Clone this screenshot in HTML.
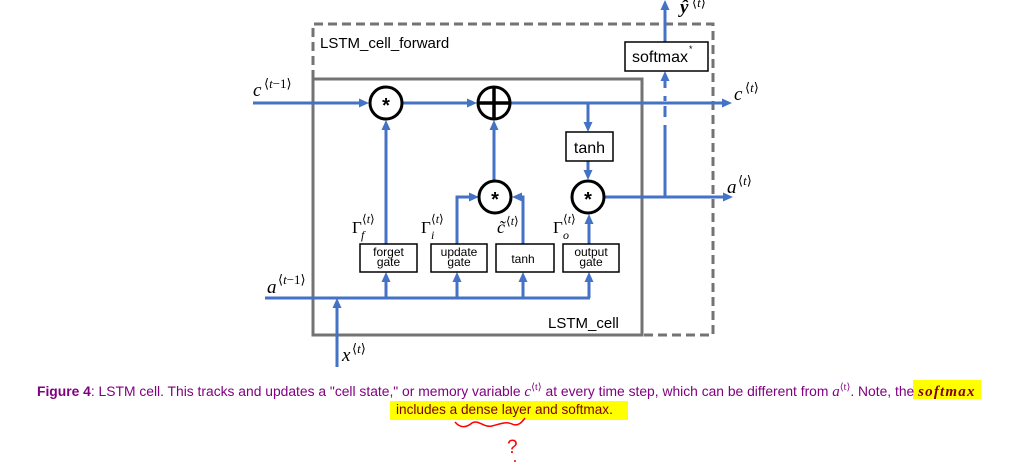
<!DOCTYPE html>
<html><head><meta charset="utf-8"><style>
html,body{margin:0;padding:0;background:#fff;width:1024px;height:462px;overflow:hidden;position:relative}
svg{position:absolute;left:0;top:0}
.cap{position:absolute;font-family:"Liberation Sans",Arial,sans-serif;font-size:13.85px;color:#800080;white-space:nowrap;line-height:16px}
.m{font-family:"Liberation Serif","DejaVu Serif",serif;font-style:italic;font-size:15px}
.sp{font-family:"Liberation Serif","DejaVu Serif",serif;font-size:10px;vertical-align:6px}
</style></head><body>
<svg width="1024" height="462" viewBox="0 0 1024 462">
<defs>
<marker id="a" markerUnits="userSpaceOnUse" markerWidth="12" markerHeight="10" refX="4" refY="5" orient="auto">
<path d="M0,0.5 L10,5 L0,9.5 z" fill="#4472C4"/>
</marker>
</defs>
<!-- highlights -->
<rect x="913" y="380" width="68" height="19" fill="#ffff00"/>
<rect x="390" y="401" width="238" height="19" fill="#ffff00"/>
<!-- gray boxes -->
<path d="M313,79 V24 H713 V335 H642" fill="none" stroke="#737373" stroke-width="3" stroke-dasharray="9,5"/>
<rect x="313" y="79" width="329" height="256" fill="none" stroke="#737373" stroke-width="3"/>
<g stroke="#4472C4" stroke-width="3" fill="none">
<path d="M253,103 H363" marker-end="url(#a)"/>
<path d="M403,103 H471" marker-end="url(#a)"/>
<path d="M511,103 H726" marker-end="url(#a)"/>
<path d="M588,103 V126" marker-end="url(#a)"/>
<path d="M588,161 V174" marker-end="url(#a)"/>
<path d="M605,197 H727" marker-end="url(#a)"/>
<path d="M665,197 V125"/>
<path d="M665,117 V106"/>
<path d="M665,101 V96"/>
<path d="M665,88 V77" marker-end="url(#a)"/>
<path d="M665,42 V6" marker-end="url(#a)"/>
<path d="M494,181 V126" marker-end="url(#a)"/>
<path d="M386,244 V126" marker-end="url(#a)"/>
<path d="M457,244 V197 H473" marker-end="url(#a)"/>
<path d="M523,244 V197 H518" marker-end="url(#a)"/>
<path d="M589,244 V220" marker-end="url(#a)"/>
<path d="M265,298 H590"/>
<path d="M386,298 V278" marker-end="url(#a)"/>
<path d="M457,298 V278" marker-end="url(#a)"/>
<path d="M523,298 V278" marker-end="url(#a)"/>
<path d="M589,298 V278" marker-end="url(#a)"/>
<path d="M337,367 V304" marker-end="url(#a)"/>
</g>
<!-- circles -->
<g stroke="#000" stroke-width="3" fill="#fff">
<circle cx="386" cy="103" r="16"/>
<circle cx="494" cy="103" r="16"/>
<circle cx="495" cy="197" r="16"/>
<circle cx="588" cy="197" r="16"/>
</g>
<path d="M494,88 V118 M479,103 H509" stroke="#000" stroke-width="3.5"/>
<g font-family="Liberation Sans,sans-serif" font-weight="bold" font-size="20" text-anchor="middle">
<text x="386" y="112">*</text>
<text x="495" y="206">*</text>
<text x="588" y="206">*</text>
</g>
<!-- boxes -->
<g stroke="#000" stroke-width="1.5" fill="#fff">
<rect x="625" y="42" width="83" height="29"/>
<rect x="566" y="132" width="47" height="29"/>
<rect x="360" y="244" width="57" height="28"/>
<rect x="431" y="244" width="56" height="28"/>
<rect x="496" y="244" width="58" height="28"/>
<rect x="563" y="244" width="56" height="28"/>
</g>
<g font-family="Liberation Sans,sans-serif" fill="#000">
<text x="320" y="48" font-size="15">LSTM_cell_forward</text>
<text x="548" y="328" font-size="15">LSTM_cell</text>
<text x="632" y="62" font-size="16">softmax</text>
<text x="689" y="52" font-size="9">*</text>
<text x="589.5" y="153" font-size="16" text-anchor="middle">tanh</text>
<g font-size="12" text-anchor="middle">
<text x="388.5" y="256">forget</text>
<text x="388.5" y="266">gate</text>
<text x="459" y="256">update</text>
<text x="459" y="266">gate</text>
<text x="523" y="263">tanh</text>
<text x="591" y="256">output</text>
<text x="591" y="266">gate</text>
</g>
</g>
<!-- math labels -->
<g font-family="Liberation Serif,DejaVu Serif,serif" fill="#000">
<text x="253" y="96" font-size="19" font-style="italic">c</text>
<text x="264" y="88" font-size="13">⟨<tspan font-style="italic">t</tspan>−1⟩</text>
<text x="734" y="100" font-size="19" font-style="italic">c</text>
<text x="745" y="92" font-size="13">⟨<tspan font-style="italic">t</tspan>⟩</text>
<text x="727" y="193" font-size="19" font-style="italic">a</text>
<text x="738" y="185" font-size="13">⟨<tspan font-style="italic">t</tspan>⟩</text>
<text x="267" y="293" font-size="19" font-style="italic">a</text>
<text x="278" y="284" font-size="13">⟨<tspan font-style="italic">t</tspan>−1⟩</text>
<text x="342" y="361" font-size="19" font-style="italic">x</text>
<text x="352" y="353" font-size="13">⟨<tspan font-style="italic">t</tspan>⟩</text>
<text x="680" y="13" font-size="19" font-style="italic" font-weight="bold">ŷ</text>
<text x="692" y="7" font-size="13">⟨<tspan font-style="italic">t</tspan>⟩</text>
<text x="352" y="233" font-size="17">Γ</text>
<text x="361" y="239" font-size="12" font-style="italic">f</text>
<text x="362" y="223" font-size="12">⟨<tspan font-style="italic">t</tspan>⟩</text>
<text x="421" y="233" font-size="17">Γ</text>
<text x="431" y="239" font-size="12" font-style="italic">i</text>
<text x="431" y="223" font-size="12">⟨<tspan font-style="italic">t</tspan>⟩</text>
<text x="497" y="233" font-size="18" font-style="italic">c̃</text>
<text x="506" y="225" font-size="12">⟨<tspan font-style="italic">t</tspan>⟩</text>
<text x="553" y="233" font-size="17">Γ</text>
<text x="563" y="239" font-size="12" font-style="italic">o</text>
<text x="563" y="223" font-size="12">⟨<tspan font-style="italic">t</tspan>⟩</text>
</g>
<!-- red annotations -->
<path d="M455,422 C460,428 466,428 472,423 C478,419 484,428 492,426 C500,424 506,421 512,424 C518,427 522,422 525,418" fill="none" stroke="#ff0000" stroke-width="1.5"/>
<text x="507" y="453" font-family="Liberation Sans,sans-serif" font-size="19" fill="#ff0000">?</text>
<circle cx="515" cy="461" r="1" fill="#ff0000"/>
</svg>
<div class="cap" style="left:37px;top:380px"><b>Figure 4</b>: LSTM cell. This tracks and updates a "cell state," or memory variable <span class="m">c</span><span class="sp">⟨t⟩</span> at every time step, which can be different from <span class="m">a</span><span class="sp">⟨t⟩</span>. Note, the <span style="font-family:'Liberation Serif',serif;font-style:italic;font-weight:bold;font-size:15px;letter-spacing:1.2px;color:#800000">softmax</span></div>
<div class="cap" style="left:396px;top:402px;color:#800000;font-size:13.6px">includes a dense layer and softmax.</div>
</body></html>
